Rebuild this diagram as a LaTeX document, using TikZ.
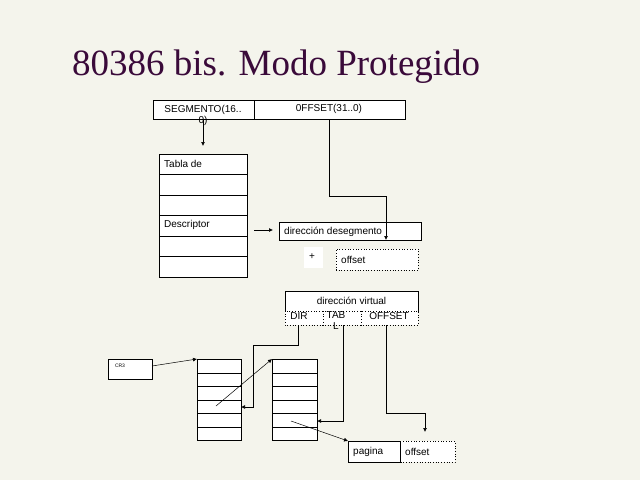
\documentclass[tikz,border=0pt]{standalone}
\usepackage{fontspec}
\setmainfont{Liberation Sans}
\newfontfamily\titlefont{Liberation Serif}
\usetikzlibrary{arrows.meta}
\definecolor{bg}{HTML}{F4F4EC}
\definecolor{titlec}{HTML}{3A0A3A}
\begin{document}
\begin{tikzpicture}[x=1pt,y=-1pt,
  box/.style={draw,fill=white,line width=0.7pt},
  dbox/.style={draw,dotted,fill=white,line width=0.7pt},
  lab/.style={font=\fontsize{10}{11}\selectfont,inner sep=0pt},
  arr/.style={line width=0.7pt,-{Latex[length=4pt,width=4pt]}},
  ln/.style={line width=0.7pt}]
\fill[bg] (0,0) rectangle (640,480);
\useasboundingbox (0,0) rectangle (640,480);
\node[anchor=base west,text=titlec,inner sep=0pt,font=\titlefont\fontsize{37}{37}\selectfont] (title) at (72,75) {80386 bis. Modo Protegido};
% top box
\draw[box] (153,100) rectangle (405,119);
\draw[ln] (254,100) -- (254,119);
\node[lab,align=center] (seg) at (203,115) {SEGMENTO(16..\\0)};
\node[lab] (off) at (329,109) {0FFSET(31..0)};
\coordinate (s1) at (203,119);
\coordinate (s2) at (203,146);
\draw[arr] (s1) -- (s2);
% descriptor table
\draw[box] (159,154) rectangle (247,277);
\foreach \y in {174,195,215,236,256} \draw[ln] (159,\y) -- (247,\y);
\node[lab,anchor=west] (tab) at (164,164) {Tabla de};
\node[lab,anchor=west] (desc) at (164,225) {Descriptor};
\coordinate (d1) at (254,230);
\coordinate (d2) at (273,230);
\draw[arr] (d1) -- (d2);
\node[box,minimum width=142pt,minimum height=18pt,inner sep=0pt] (dseg) at (350,231) {};
\node[lab,anchor=west] at (284,232) {dirección desegmento};
\coordinate (o1) at (329,119);
\coordinate (o2) at (386,240);
\draw[arr] (o1) |- (386,196) -- (o2);
\fill[white] (304,247) rectangle (323,268);
\node[lab] (plus) at (312,257) {+};
\node[dbox,minimum width=82pt,minimum height=21pt,inner sep=0pt] (offs) at (377,259.5) {};
\node[lab,anchor=west] at (341,260) {offset};
% virtual address
\node[box,minimum width=133pt,minimum height=20pt,inner sep=0pt,lab] (dv) at (351.5,301) {dirección virtual};
\draw[dbox] (285,311) rectangle (418,325);
\draw[ln,dotted] (323,311) -- (323,325) (361,311) -- (361,325);
\node[lab] (dir) at (299,316) {DIR};
\node[lab,align=center] (tabl) at (336,321) {TAB\\L};
\node[lab] (offv) at (389,316) {OFFSET};
% CR3
\node[box,minimum width=44pt,minimum height=20pt,inner sep=0pt] (cr3) at (130,369) {};
\node[inner sep=0pt,font=\fontsize{5}{5}\selectfont] at (120,366) {CR3};
% tables
\draw[box] (197,359) rectangle (241,440);
\draw[box] (272,359) rectangle (317,440);
\foreach \y in {373,386,400,413,427} {\draw[ln] (197,\y) -- (241,\y); \draw[ln] (272,\y) -- (317,\y);}
\coordinate (c1) at (152,366);
\coordinate (c2) at (197,359);
\draw[arr,line width=0.5pt] (c1) -- (c2);
\coordinate (a1) at (298,325);
\coordinate (a2) at (241,407);
\draw[arr] (a1) -- (298,345) -- (253,345) -- (253,407) -- (a2);
\coordinate (b1) at (216,406);
\coordinate (b2) at (272,359);
\draw[arr,line width=0.5pt] (b1) -- (b2);
\coordinate (t1) at (343,325);
\coordinate (t2) at (317,421);
\draw[arr] (t1) |- (t2);
\coordinate (f1) at (386,325);
\coordinate (f2) at (425,432);
\draw[arr] (f1) -- (386,413) -| (f2);
\coordinate (p1) at (291,421);
\coordinate (p2) at (348,441);
\draw[arr,line width=0.5pt] (p1) -- (p2);
% page
\draw[dbox] (400,441) rectangle (455,462);
\draw[box] (348,441) rectangle (400,462);
\node[lab,anchor=west] (pag) at (353,452) {pagina};
\node[lab,anchor=west] (poff) at (405,452) {offset};
\end{tikzpicture}
\end{document}
